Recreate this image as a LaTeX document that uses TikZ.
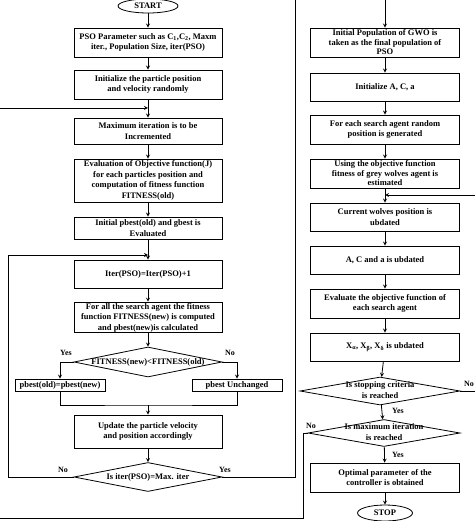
\documentclass[tikz,border=0pt]{standalone}
\usepackage{fontspec}
\setmainfont{Liberation Serif}
\usetikzlibrary{shapes.geometric, arrows}
\tikzstyle{startstop} = [ellipse, minimum width=60pt, minimum height=14pt, inner sep=0pt, text centered, draw=black, line width=0.8pt]
\tikzstyle{process} = [rectangle, minimum width=148pt, minimum height=28pt, inner sep=1pt, align=center, draw=black, line width=0.8pt]
\tikzstyle{smallbox} = [rectangle, minimum width=90pt, minimum height=12pt, inner sep=1pt, text centered, draw=black, line width=0.8pt]
\tikzstyle{decision} = [diamond, minimum width=148pt, minimum height=30pt, inner sep=0pt, draw=black, line width=0.8pt]
\tikzstyle{lbl} = [inner sep=0pt, font=\fontsize{8}{9}\selectfont\bfseries]
\tikzstyle{arrow} = [line width=0.8pt,->,>=stealth]
\tikzstyle{line} = [line width=0.8pt]

\begin{document}
\begin{tikzpicture}[x=1pt, y=-1pt, font=\fontsize{8.5}{10.5}\selectfont\bfseries]
\useasboundingbox (0,0) rectangle (474,521);
% PSO part
\node[startstop] (start) at (148,6) {START};
\node[process, minimum height=29pt] (param) at (148,42.5) {PSO Parameter such as C\textsubscript{1},C\textsubscript{2}, Maxm\\iter., Population Size, iter(PSO)};
\node[process, minimum height=29pt] (init) at (148,84.5) {Initialize the particle position\\and velocity randomly};
\node[process, minimum height=26pt] (maxit) at (148,131) {Maximum iteration is to be\\Incremented};
\node[process, minimum height=43pt] (evalf) at (148,180.5) {Evaluation of Objective function(J)\\for each particles position and\\computation of fitness function\\FITNESS(old)};
\node[process, minimum height=22pt] (pbest0) at (148,228) {Initial pbest(old) and gbest is\\Evaluated};
\node[process] (iterinc) at (148,274) {Iter(PSO)=Iter(PSO)+1};
\node[process, minimum height=29pt] (fitall) at (148,317.5) {For all the search agent the fitness\\function FITNESS(new) is computed\\and pbest(new)is calculated};
\node[decision] (cmp) at (148,362) {\makebox[0pt]{FITNESS(new)<FITNESS(old)}};
\node[smallbox] (pbold) at (60,385) {pbest(old)=pbest(new)};
\node[smallbox] (pbun) at (237,385) {pbest Unchanged};
\node[process, minimum height=33pt] (update) at (148,431.5) {Update the particle velocity\\and position accordingly};
\node[decision, minimum height=29pt] (chk) at (148,477) {\makebox[0pt]{Is iter(PSO)=Max. iter}};
% GWO part
\node[process, minimum width=149pt, minimum height=29pt, font=\fontsize{8.5}{9.5}\selectfont\bfseries] (gwo) at (385,42.5) {Initial Population of GWO is\\taken as the final population of\\PSO};
\node[process, minimum width=149pt] (initac) at (385,87) {Initialize A, C, a};
\node[process, minimum width=149pt, minimum height=29pt] (randpos) at (385,129.5) {For each search agent random\\position is generated};
\node[process, minimum width=149pt, minimum height=29pt, font=\fontsize{8.5}{9.5}\selectfont\bfseries] (fit) at (385,173.5) {Using the objective function\\fitness of grey wolves agent is\\estimated};
\node[process, minimum width=149pt] (curpos) at (385,217) {Current wolves position is\\ubdated};
\node[process, minimum width=149pt] (acupd) at (385,260) {A, C and a is ubdated};
\node[process, minimum width=149pt, minimum height=29pt] (evalag) at (385,303.5) {Evaluate the objective function of\\each search agent};
\node[process, minimum width=149pt] (xupd) at (385,347) {X\textsubscript{α}, X\textsubscript{β}, X\textsubscript{δ} is ubdated};
\node[decision, minimum width=160pt, minimum height=28pt] (stopq) at (380,391) {\makebox[0pt]{\begin{tabular}{@{}c@{}}Is stopping criteria\\is reached\end{tabular}}};
\node[decision, minimum width=152pt, minimum height=27pt] (maxq) at (384,433) {\makebox[0pt]{\begin{tabular}{@{}c@{}}Is maximum iteration\\is reached\end{tabular}}};
\node[process, minimum width=149pt, minimum height=29pt] (optim) at (385,477.5) {Optimal parameter of the\\controller is obtained};
\node[startstop, minimum width=55pt, minimum height=16pt] (stop) at (385,513) {STOP};
% joints and loop corners
\coordinate (j1) at (148,108);
\coordinate (j2) at (148,255);
\coordinate (j3) at (385,195);
\coordinate (mrg) at (148,405);
\coordinate (yesr) at (295,-10);
\coordinate (nor) at (482,195);
\coordinate (nob) at (303,518.5);
\coordinate (nol) at (-10,518.5);
\coordinate (nol2) at (8,477);
% labels
\node[lbl] (yes1) at (66,353) {Yes};
\node[lbl] (no1) at (230,353) {No};
\node[lbl] (no2) at (63,470) {No};
\node[lbl] (yes2) at (225,470) {Yes};
\node[lbl] (no3) at (469,384) {No};
\node[lbl] (yes3) at (398,411) {Yes};
\node[lbl] (no4) at (311,426) {No};
\node[lbl] (yes4) at (398,455) {Yes};
% PSO arrows
\draw[arrow] (start) -- (param);
\draw[arrow] (param) -- (init);
\draw[arrow] (init) -- (maxit);
\draw[arrow] (maxit) -- (evalf);
\draw[arrow] (evalf) -- (pbest0);
\draw[arrow] (pbest0) -- (iterinc);
\draw[arrow] (iterinc) -- (fitall);
\draw[arrow] (fitall) -- (cmp);
\draw[arrow] (cmp.west) -| (pbold.north);
\draw[arrow] (cmp.east) -| (pbun.north);
\draw[line] (pbold.south) |- (mrg) -| (pbun.south);
\draw[arrow] (mrg) -- (update);
\draw[arrow] (update) -- (chk);
\draw[arrow] (chk.west) -- (nol2) |- (j2);
\draw[arrow] (chk.east) -| (yesr) -| (gwo.north);
% GWO arrows
\draw[arrow] (gwo) -- (initac);
\draw[arrow] (initac) -- (randpos);
\draw[arrow] (randpos) -- (fit);
\draw[arrow] (fit) -- (curpos);
\draw[arrow] (curpos) -- (acupd);
\draw[arrow] (acupd) -- (evalag);
\draw[arrow] (evalag) -- (xupd);
\draw[arrow] (xupd) -- (stopq);
\draw[arrow] (stopq) -- (maxq);
\draw[arrow] (maxq) -- (optim);
\draw[arrow] (optim) -- (stop);
\draw[arrow] (stopq.east) -| (nor) -- (j3);
\draw[arrow] (maxq.west) -| (nob) -- (nol) |- (j1);
\end{tikzpicture}
\end{document}
